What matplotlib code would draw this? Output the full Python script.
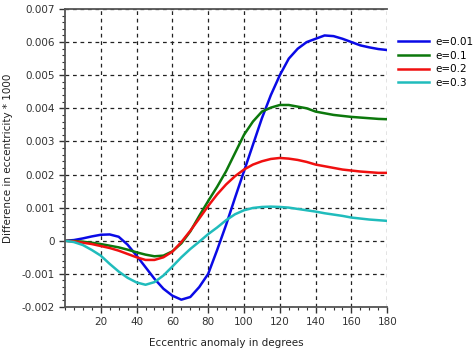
import numpy as np
import matplotlib.pyplot as plt
from matplotlib.ticker import MultipleLocator

# eccentric anomaly, degrees
E = np.arange(0, 181, 5)

e001 = [0, 0.00002, 0.00007, 0.00013, 0.00018, 0.00019, 0.00012, -0.00012,
        -0.00045, -0.0008, -0.00115, -0.00145, -0.00166, -0.00178, -0.0017,
        -0.0014, -0.001, -0.00028, 0.00048, 0.0013, 0.0021, 0.0029, 0.0037,
        0.0044, 0.005, 0.0055, 0.0058, 0.006, 0.0061, 0.0062, 0.00618,
        0.0061, 0.006, 0.0059, 0.00584, 0.00579, 0.00576]
e01 = [0, -0.00001, -0.00003, -0.00006, -0.0001, -0.00015, -0.0002, -0.00027,
       -0.00035, -0.00042, -0.00047, -0.00045, -0.00032, -0.00008, 0.00028,
       0.00075, 0.0012, 0.00163, 0.0021, 0.00265, 0.0032, 0.0036, 0.0039,
       0.00402, 0.0041, 0.0041, 0.00405, 0.004, 0.0039, 0.00385, 0.0038,
       0.00377, 0.00374, 0.00372, 0.0037, 0.00368, 0.00367]
e02 = [0, -0.00002, -0.00006, -0.0001, -0.00016, -0.00022, -0.0003, -0.0004,
       -0.0005, -0.00058, -0.00058, -0.0005, -0.00033, -0.00004, 0.0003,
       0.00067, 0.00105, 0.0014, 0.0017, 0.00195, 0.00215, 0.0023, 0.0024,
       0.00247, 0.0025, 0.00248, 0.00244, 0.00238, 0.0023, 0.00225, 0.0022,
       0.00215, 0.00212, 0.00209, 0.00207, 0.00205, 0.00205]
e03 = [0, -0.00004, -0.00013, -0.00028, -0.00045, -0.0007, -0.00093, -0.00112,
       -0.00126, -0.00133, -0.00125, -0.00105, -0.00078, -0.0005, -0.00025,
       -0.00003, 0.0002, 0.0004, 0.00062, 0.0008, 0.00092, 0.00099, 0.00102,
       0.00103, 0.00102, 0.001, 0.00096, 0.00092, 0.00088, 0.00083, 0.00079,
       0.00075, 0.0007, 0.00067, 0.00064, 0.00062, 0.0006]

labels = ['e=0.01', 'e=0.1', 'e=0.2', 'e=0.3']
colors = ['#0a0ae6', '#0c780c', '#f01010', '#20bcbc']

fig = plt.figure(figsize=(4.74, 3.59), dpi=100)
ax = fig.add_axes([0.137, 0.145, 0.68, 0.83])

for y, lab, c in zip([e001, e01, e02, e03], labels, colors):
    ax.plot(E, y, color=c, lw=1.8, label=lab, solid_joinstyle='round')

ax.set_xlim(0, 180)
ax.set_ylim(-0.002, 0.007)
ax.set_xticks(np.arange(20, 181, 20))
ax.xaxis.set_minor_locator(MultipleLocator(5))
ax.set_yticks(np.arange(-0.002, 0.0071, 0.001))
ax.set_yticklabels(['-0.002', '-0.001', '0', '0.001', '0.002', '0.003',
                    '0.004', '0.005', '0.006', '0.007'])
ax.yaxis.set_minor_locator(MultipleLocator(0.0002))

ax.grid(True, which='major', color='#222222', ls=(0, (3, 3)), lw=0.9)
ax.tick_params(which='major', length=4, width=1, labelsize=7.5, colors='#333333')
ax.tick_params(which='minor', length=2, width=0.8, colors='#333333')
for s in ['left', 'bottom', 'top']:
    ax.spines[s].set_color('#555555')
    ax.spines[s].set_linewidth(1.3)
ax.spines['right'].set_visible(False)

ax.set_xlabel('Eccentric anomaly in degrees', fontsize=7.5, color='#222222', labelpad=8)
ax.set_ylabel('Difference in eccentricity * 1000', fontsize=7.5, color='#222222', labelpad=6)

ax.legend(loc='upper left', bbox_to_anchor=(1.02, 0.92), frameon=False,
          fontsize=7.5, handlelength=3, labelspacing=0.35, borderaxespad=0,
          handletextpad=0.6)

fig.savefig('out.png', dpi=100)
